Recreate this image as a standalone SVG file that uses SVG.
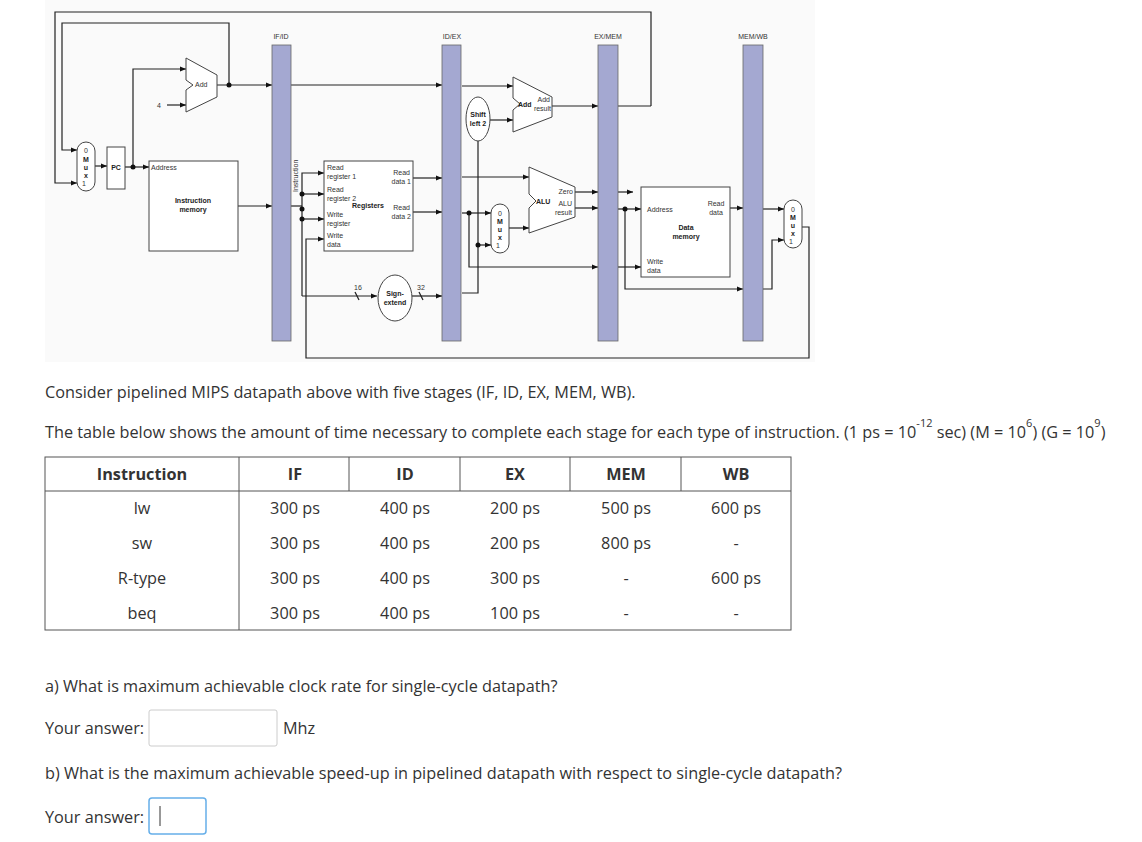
<svg xmlns="http://www.w3.org/2000/svg" width="1142" height="842" viewBox="0 0 1142 842">
<defs>
<marker id="ar" viewBox="0 0 10 10" refX="10" refY="5" markerWidth="5" markerHeight="5" orient="auto"><path d="M0,1 L10,5 L0,9 z" fill="#111"/></marker>
</defs>
<style>
.w{fill:none;stroke:#222;stroke-width:1.2}
.a{fill:none;stroke:#222;stroke-width:1.2;marker-end:url(#ar)}
.bx{fill:#fff;stroke:#444;stroke-width:1}
.bar{fill:#a4a8d1;stroke:#666;stroke-width:0.8}
.t{font-family:"Liberation Sans",Arial,sans-serif;font-size:7px;fill:#333}
.tb{font-family:"Liberation Sans",Arial,sans-serif;font-size:7px;font-weight:bold;fill:#222}
.q{font-family:"Open Sans","Noto Sans",sans-serif;font-size:16.25px;fill:#333}
.th{font-family:"Open Sans","Noto Sans",sans-serif;font-size:16.25px;font-weight:bold;fill:#333;text-anchor:middle}
.td{font-family:"Open Sans","Noto Sans",sans-serif;font-size:16.25px;fill:#333;text-anchor:middle}
.sup{font-family:"Open Sans","Noto Sans",sans-serif;font-size:11px;fill:#333}
.dot{fill:#111}
</style>
<rect x="45" y="0" width="770" height="362" fill="#fafafa"/>
<g id="connectors">
<polyline class="a" points="651,106 651,12 55,12 55,183 77,183"/>
<polyline class="a" points="229,85 229,23 62,23 62,150 77,150"/>
<line class="a" x1="95" y1="166" x2="107" y2="166"/>
<line class="a" x1="125" y1="167" x2="149" y2="167"/>
<polyline class="a" points="133,167 133,69 186,69"/>
<line class="a" x1="167" y1="105" x2="186" y2="105"/>
<line class="a" x1="217" y1="85" x2="272" y2="85"/>
<line class="a" x1="291" y1="85" x2="442" y2="85"/>
<line class="a" x1="238" y1="206" x2="272" y2="206"/>
<line class="w" x1="291" y1="206" x2="302" y2="206"/>
<polyline class="a" points="302,296 302,173 324,173"/>
<line class="a" x1="302" y1="194" x2="324" y2="194"/>
<line class="a" x1="302" y1="219" x2="324" y2="219"/>
<line class="a" x1="302" y1="296" x2="377" y2="296"/>
<polyline class="a" points="802,227 809,227 809,358 306,358 306,239 324,239"/>
<line class="a" x1="413" y1="178" x2="442" y2="178"/>
<line class="a" x1="413" y1="212" x2="442" y2="212"/>
<line class="a" x1="412" y1="296" x2="442" y2="296"/>
<line class="w" x1="355" y1="292" x2="359" y2="300"/>
<line class="w" x1="419" y1="292" x2="423" y2="300"/>
<line class="a" x1="462" y1="86" x2="513" y2="86"/>
<line class="a" x1="490" y1="120" x2="513" y2="120"/>
<polyline class="w" points="462,293 478,293 478,141"/>
<line class="a" x1="552" y1="106" x2="598" y2="106"/>
<line class="w" x1="618" y1="106" x2="651" y2="106"/>
<line class="a" x1="462" y1="177" x2="529" y2="177"/>
<line class="a" x1="462" y1="213" x2="491" y2="213"/>
<line class="a" x1="478" y1="245" x2="491" y2="245"/>
<polyline class="a" points="469,213 469,267 598,267"/>
<line class="a" x1="509" y1="228" x2="529" y2="228"/>
<line class="a" x1="575" y1="192" x2="598" y2="192"/>
<line class="a" x1="575" y1="208" x2="598" y2="208"/>
<line class="a" x1="618" y1="192" x2="633" y2="192"/>
<line class="a" x1="618" y1="209" x2="641" y2="209"/>
<polyline class="a" points="625,209 625,289 743,289"/>
<line class="a" x1="618" y1="267" x2="641" y2="267"/>
<line class="a" x1="730" y1="208" x2="743" y2="208"/>
<line class="a" x1="763" y1="209" x2="784" y2="209"/>
<polyline class="a" points="763,289 772,289 772,240 784,240"/>
<circle class="dot" cx="229" cy="85" r="2.5"/>
<circle class="dot" cx="133" cy="167" r="2.5"/>
<circle class="dot" cx="302" cy="194" r="2.5"/>
<circle class="dot" cx="302" cy="209" r="2.5"/>
<circle class="dot" cx="302" cy="219" r="2.5"/>
<circle class="dot" cx="469" cy="213" r="2.5"/>
<circle class="dot" cx="478" cy="245" r="2.5"/>
<circle class="dot" cx="625" cy="209" r="2.5"/>
</g>
<g id="bars">
<rect class="bar" x="272" y="45" width="19" height="296"/>
<rect class="bar" x="442" y="45" width="19" height="296"/>
<rect class="bar" x="598" y="45" width="20" height="296"/>
<rect class="bar" x="743" y="45" width="20" height="296"/>
<text class="t" x="281" y="39" text-anchor="middle">IF/ID</text>
<text class="t" x="452" y="39" text-anchor="middle">ID/EX</text>
<text class="t" x="608" y="39" text-anchor="middle">EX/MEM</text>
<text class="t" x="753" y="39" text-anchor="middle">MEM/WB</text>
<text class="t" transform="translate(298,192) rotate(-90)">Instruction</text>
</g>
<g id="mux-pc"><rect class="bx" x="77" y="142" width="18" height="49" rx="9"/>
<text class="t" x="86" y="153" text-anchor="middle" font-size="6">0</text><text class="tb" x="86" y="162" text-anchor="middle">M</text><text class="tb" x="86" y="170" text-anchor="middle">u</text><text class="tb" x="86" y="178" text-anchor="middle">x</text><text class="t" x="84" y="186" text-anchor="middle" font-size="6">1</text></g>
<g id="pc"><rect class="bx" x="107" y="147" width="18" height="42"/><text class="tb" x="116" y="170" text-anchor="middle">PC</text></g>
<g id="add-if"><polygon class="bx" points="186,58 217,75 217,97 186,112 186,90 193,85 186,80"/><text class="t" x="195" y="87">Add</text></g>
<text class="t" x="157" y="108">4</text>
<g id="imem"><rect class="bx" x="149" y="161" width="89" height="90"/><text class="t" x="151" y="170">Address</text><text class="tb" x="193" y="203" text-anchor="middle">Instruction</text><text class="tb" x="193" y="212" text-anchor="middle">memory</text></g>
<g id="regs"><rect class="bx" x="324" y="161" width="89" height="90"/>
<text class="t" x="327" y="170">Read</text><text class="t" x="327" y="179">register 1</text>
<text class="t" x="327" y="192">Read</text><text class="t" x="327" y="201">register 2</text>
<text class="tb" x="352" y="208">Registers</text>
<text class="t" x="327" y="217">Write</text><text class="t" x="327" y="226">register</text>
<text class="t" x="327" y="238">Write</text><text class="t" x="327" y="247">data</text>
<text class="t" x="410" y="175" text-anchor="end">Read</text><text class="t" x="411" y="184" text-anchor="end">data 1</text>
<text class="t" x="410" y="210" text-anchor="end">Read</text><text class="t" x="411" y="219" text-anchor="end">data 2</text></g>
<text class="t" x="354" y="290">16</text><text class="t" x="417" y="290">32</text>
<g id="signext"><ellipse class="bx" cx="395" cy="298" rx="17" ry="23"/><text class="tb" x="395" y="296" text-anchor="middle">Sign-</text><text class="tb" x="395" y="305" text-anchor="middle">extend</text></g>
<g id="shift"><ellipse class="bx" cx="478" cy="119" rx="12" ry="22"/><text class="tb" x="478" y="117" text-anchor="middle">Shift</text><text class="tb" x="478" y="126" text-anchor="middle">left 2</text></g>
<g id="add-ex"><polygon class="bx" points="513,77 552,97 552,117 513,132 513,110 520,104 513,98"/><text class="tb" x="518" y="107">Add</text><text class="t" x="550" y="102" text-anchor="end">Add</text><text class="t" x="551" y="111" text-anchor="end">result</text></g>
<g id="mux-ex"><rect class="bx" x="491" y="204" width="18" height="49" rx="9"/>
<text class="t" x="500" y="216" text-anchor="middle" font-size="6">0</text><text class="tb" x="500" y="224" text-anchor="middle">M</text><text class="tb" x="500" y="232" text-anchor="middle">u</text><text class="tb" x="500" y="240" text-anchor="middle">x</text><text class="t" x="498" y="248" text-anchor="middle" font-size="6">1</text></g>
<g id="alu"><polygon class="bx" points="529,167 575,187 575,217 529,233 529,208 536,201 529,194"/><text class="tb" x="536" y="204">ALU</text><text class="t" x="573" y="194" text-anchor="end">Zero</text><text class="t" x="572" y="206" text-anchor="end">ALU</text><text class="t" x="572" y="215" text-anchor="end">result</text></g>
<g id="dmem"><rect class="bx" x="641" y="187" width="89" height="90"/><text class="t" x="647" y="212">Address</text><text class="t" x="716" y="206" text-anchor="middle">Read</text><text class="t" x="716" y="215" text-anchor="middle">data</text><text class="tb" x="686" y="230" text-anchor="middle">Data</text><text class="tb" x="686" y="239" text-anchor="middle">memory</text><text class="t" x="647" y="264">Write</text><text class="t" x="647" y="273">data</text></g>
<g id="mux-wb"><rect class="bx" x="784" y="200" width="18" height="48" rx="9"/>
<text class="t" x="793" y="212" text-anchor="middle" font-size="6">0</text><text class="tb" x="793" y="220" text-anchor="middle">M</text><text class="tb" x="793" y="228" text-anchor="middle">u</text><text class="tb" x="793" y="236" text-anchor="middle">x</text><text class="t" x="791" y="244" text-anchor="middle" font-size="6">1</text></g>
<text class="q" x="45" y="398">Consider pipelined MIPS datapath above with five stages (IF, ID, EX, MEM, WB).</text>
<text class="q" x="45" y="438">The table below shows the amount of time necessary to complete each stage for each type of instruction. (1 ps = 10<tspan class="sup" dy="-11">-12</tspan><tspan dy="11"> sec) (M = 10</tspan><tspan class="sup" dy="-11">6</tspan><tspan dy="11">) (G = 10</tspan><tspan class="sup" dy="-11">9</tspan><tspan dy="11">)</tspan></text>
<g id="table" fill="none" stroke="#555" stroke-width="1">
<rect x="45" y="457" width="746" height="173"/>
<line x1="45" y1="491" x2="791" y2="491"/>
<line x1="239" y1="457" x2="239" y2="630"/>
<line x1="349" y1="457" x2="349" y2="491"/><line x1="460" y1="457" x2="460" y2="491"/><line x1="570" y1="457" x2="570" y2="491"/><line x1="681" y1="457" x2="681" y2="491"/>
</g>
<g id="tabletext">
<text class="th" x="142" y="480">Instruction</text><text class="th" x="295" y="480">IF</text><text class="th" x="405" y="480">ID</text><text class="th" x="515" y="480">EX</text><text class="th" x="626" y="480">MEM</text><text class="th" x="736" y="480">WB</text>
<text class="td" x="142" y="514">lw</text><text class="td" x="295" y="514">300 ps</text><text class="td" x="405" y="514">400 ps</text><text class="td" x="515" y="514">200 ps</text><text class="td" x="626" y="514">500 ps</text><text class="td" x="736" y="514">600 ps</text>
<text class="td" x="142" y="549">sw</text><text class="td" x="295" y="549">300 ps</text><text class="td" x="405" y="549">400 ps</text><text class="td" x="515" y="549">200 ps</text><text class="td" x="626" y="549">800 ps</text><text class="td" x="736" y="549">-</text>
<text class="td" x="142" y="584">R-type</text><text class="td" x="295" y="584">300 ps</text><text class="td" x="405" y="584">400 ps</text><text class="td" x="515" y="584">300 ps</text><text class="td" x="626" y="584">-</text><text class="td" x="736" y="584">600 ps</text>
<text class="td" x="142" y="619">beq</text><text class="td" x="295" y="619">300 ps</text><text class="td" x="405" y="619">400 ps</text><text class="td" x="515" y="619">100 ps</text><text class="td" x="626" y="619">-</text><text class="td" x="736" y="619">-</text>
</g>
<text class="q" x="45" y="692">a) What is maximum achievable clock rate for single-cycle datapath?</text>
<text class="q" x="45" y="734">Your answer:</text>
<rect x="149" y="710" width="128" height="36" rx="2" fill="#fff" stroke="#ccc"/>
<text class="q" x="283" y="734">Mhz</text>
<text class="q" x="45" y="779">b) What is the maximum achievable speed-up in pipelined datapath with respect to single-cycle datapath?</text>
<text class="q" x="45" y="823">Your answer:</text>
<rect x="149" y="798" width="57" height="36" rx="3" fill="#fff" stroke="#66afe9" stroke-width="1.5"/>
<line x1="160" y1="806" x2="160" y2="826" stroke="#333" stroke-width="1"/>
</svg>
